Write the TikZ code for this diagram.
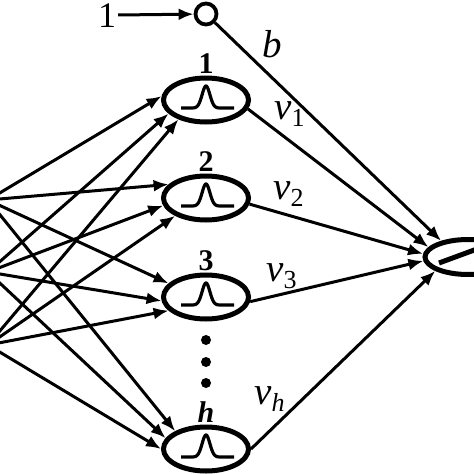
\documentclass[tikz,border=0pt]{standalone}
\usepackage{fontspec}
\setmainfont{Liberation Serif}
\usetikzlibrary{arrows.meta, math, shapes.geometric}
\newcommand{\wsub}[1]{\textit{v}\raisebox{-7pt}{\fontsize{26}{26}\selectfont #1}}

\begin{document}
\begin{tikzpicture}[x=1pt, y=-1pt,
  neuron/.style={draw, ellipse, line width=5pt, minimum width=85pt, minimum height=44pt, inner sep=0pt},
  conn/.style={line width=3pt, -{Latex[length=15pt,width=12pt]}},
  lab/.style={font=\fontsize{39}{39}\selectfont, anchor=base west, inner sep=0pt},
  num/.style={font=\fontsize{30}{30}\selectfont\bfseries, anchor=base, inner sep=0pt},
  dot/.style={circle, fill, minimum size=10pt, inner sep=0pt}]
\tikzmath{
\hx=206;
\sig=5.5;
}
\useasboundingbox (0,0) rectangle (474,474);
\clip (0,0) rectangle (474,474);

% inputs (outside the frame)
\coordinate (in1) at (-12,200);
\coordinate (in2) at (-12,272);
\coordinate (in3) at (-12,345);

% hidden layer
\node[neuron] (h1) at (\hx,100) {};
\node[neuron] (h2) at (\hx,198) {};
\node[neuron] (h3) at (\hx,297) {};
\node[neuron] (hh) at (\hx,449) {};
\node[num] (n1) at (\hx,73) {1};
\node[num] (n2) at (\hx,171) {2};
\node[num] (n3) at (\hx,270) {3};
\node[num] (nh) at (\hx,422) {\itshape h};
\foreach \n in {h1,h2,h3,hh}
  \draw[line width=3.2pt, shift={(\n.center)}] plot[domain=-25:28, samples=90] (\x,{8-22*exp(-(\x/\sig)^2)});
\node[dot] (d1) at (\hx,340) {};
\node[dot] (d2) at (\hx,362) {};
\node[dot] (d3) at (\hx,383) {};

% bias and output
\node[circle, draw, line width=3.8pt, minimum size=21pt, inner sep=0pt] (bias) at (\hx,14) {};
\node[font=\fontsize{36}{36}\selectfont, anchor=base, inner sep=2pt] (one) at (107,27) {1};
\node[neuron, minimum width=86pt, minimum height=35pt] (out) at (468,257) {};
\draw[line width=5pt] ([shift={(-29,6)}]out.center) -- ([shift={(28,-15)}]out.center);

\draw[conn] (one) -- (bias);
\draw[conn] (bias) -- (out.149);
\draw[conn] (h1.-12) -- (out.166);
\draw[conn] (h2.-8) -- (out.176);
\draw[conn] (h3.-6) -- (out.185);
\draw[conn] (hh.0) -- (out.203);

\foreach \n/\a/\b/\c in {h1/175/200/215, h2/160/190/210, h3/160/185/200, hh/150/165/180}{
  \draw[conn] (in1) -- (\n.\a);
  \draw[conn] (in2) -- (\n.\b);
  \draw[conn] (in3) -- (\n.\c);
}

% weights
\node[lab] (wb) at (262,57) {\textit{b}};
\node[lab] (w1) at (274,119) {\wsub{1}};
\node[lab] (w2) at (273,199) {\wsub{2}};
\node[lab] (w3) at (266,281) {\wsub{3}};
\node[lab] (wh) at (254,404) {\wsub{\textit{h}}};
\end{tikzpicture}
\end{document}
